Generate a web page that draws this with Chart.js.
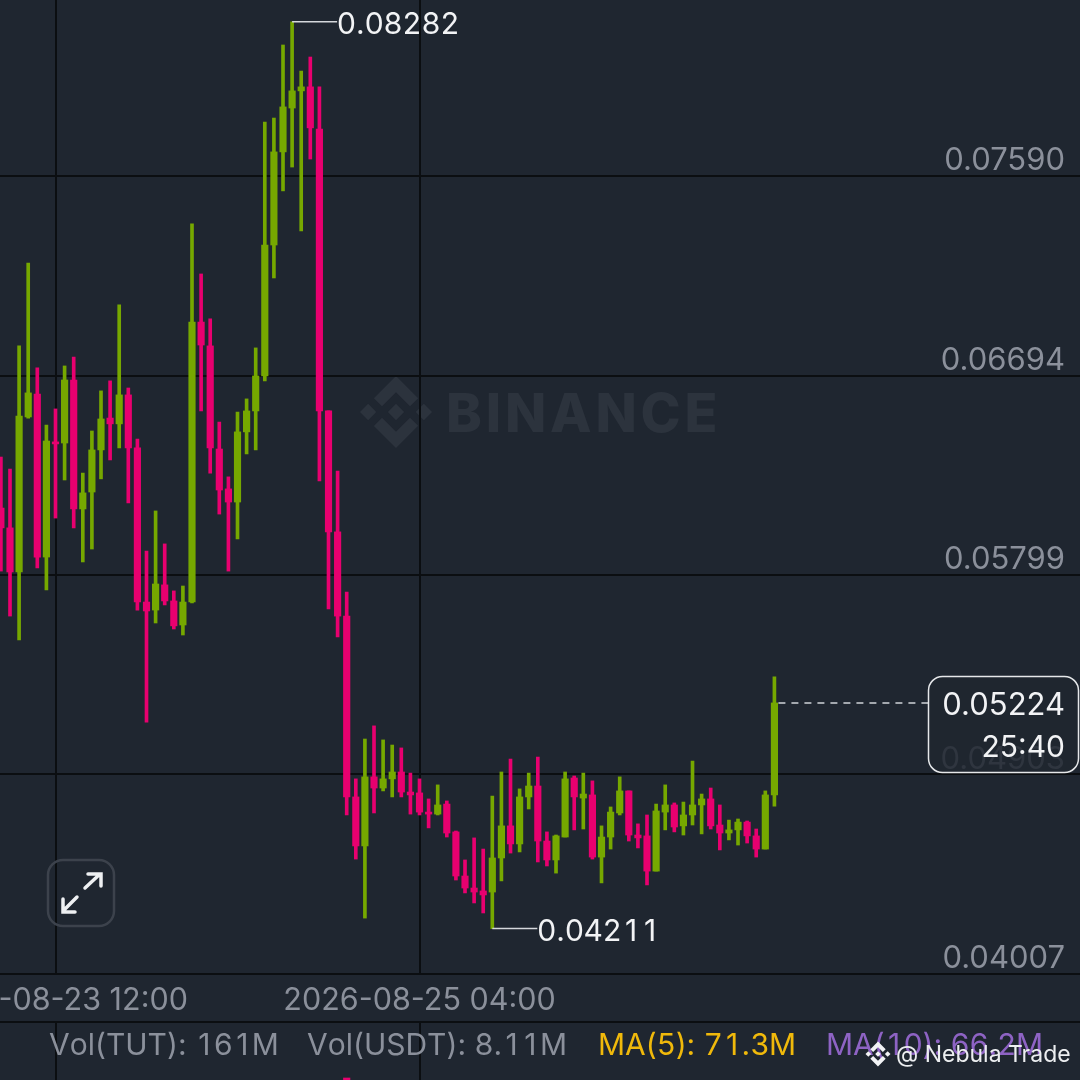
<!DOCTYPE html>
<html>
<head>
<meta charset="utf-8">
<style>
html, body { margin: 0; padding: 0; background: #1f2630; overflow: hidden; }
canvas { display: block; position: absolute; left: 0; }
#main { top: 0; }
#vol { top: 1021px; }
</style>
<script src="https://cdn.jsdelivr.net/npm/chart.js@4/dist/chart.umd.min.js"></script>
</head>
<body>
<canvas id="main" width="1080" height="1021"></canvas>
<canvas id="vol" width="1080" height="59"></canvas>
<script>
const opens = [.06099,.06010,.05812,.06508,.06611,.05879,.06396,.06391,.06674,.06095,.06171,.06360,.06503,.06477,.06607,.06369,.05677,.05641,.05754,.05682,.05574,.05677,.06934,.06827,.06364,.06185,.06126,.06441,.06535,.06692,.07280,.07698,.07895,.07972,.07990,.07801,.06535,.05992,.05614,.04802,.04582,.04892,.04842,.04883,.04914,.04824,.04820,.04734,.04725,.04770,.04645,.04447,.04393,.04380,.04375,.04528,.04672,.04591,.04802,.04851,.04604,.04519,.04622,.04887,.04797,.04811,.04532,.04622,.04730,.04829,.04631,.04627,.04469,.04734,.04766,.04672,.04721,.04766,.04793,.04676,.04640,.04654,.04689,.04627,.04568,.04811];
const highs = [.06328,.06274,.06827,.07199,.06728,.06472,.06544,.06737,.06777,.06256,.06445,.06625,.06670,.07011,.06638,.06409,.05906,.06086,.05938,.05727,.05749,.07375,.07150,.06948,.06485,.06239,.06530,.06589,.06818,.07832,.07850,.08178,.08282,.08061,.08124,.07990,.06535,.06265,.05722,.04883,.05062,.05121,.05058,.05035,.05022,.04909,.04883,.04793,.04856,.04784,.04649,.04519,.04618,.04568,.04806,.04914,.04972,.04838,.04909,.04981,.04645,.04631,.04914,.04896,.04909,.04874,.04672,.04757,.04892,.04829,.04681,.04721,.04770,.04856,.04775,.04779,.04963,.04815,.04842,.04766,.04698,.04703,.04694,.04658,.04829,.05341];
const lows = [.05816,.05614,.05507,.06503,.05830,.05731,.06054,.06225,.06010,.05857,.05915,.06230,.06315,.06369,.06122,.05641,.05138,.05583,.05664,.05556,.05529,.05673,.06535,.06256,.06072,.05816,.05960,.06342,.06360,.06670,.07132,.07523,.07630,.07343,.07666,.06221,.05646,.05520,.04721,.04523,.04258,.04730,.04829,.04802,.04802,.04725,.04721,.04663,.04721,.04622,.04429,.04371,.04326,.04281,.04211,.04425,.04550,.04555,.04748,.04510,.04492,.04460,.04622,.04654,.04658,.04523,.04416,.04568,.04721,.04604,.04573,.04407,.04469,.04654,.04645,.04631,.04676,.04636,.04658,.04564,.04609,.04586,.04595,.04532,.04568,.04761];
const closes = [.06010,.05812,.06512,.06616,.05879,.06400,.06387,.06674,.06095,.06167,.06360,.06499,.06477,.06607,.06369,.05677,.05637,.05758,.05682,.05570,.05677,.06934,.06831,.06369,.06180,.06126,.06441,.06535,.06692,.07280,.07698,.07900,.07972,.07990,.07806,.06535,.05992,.05614,.04802,.04582,.04892,.04842,.04883,.04914,.04824,.04811,.04734,.04725,.04766,.04640,.04447,.04393,.04375,.04362,.04528,.04672,.04591,.04802,.04851,.04604,.04519,.04627,.04883,.04802,.04815,.04532,.04622,.04734,.04829,.04631,.04618,.04469,.04739,.04766,.04667,.04721,.04766,.04793,.04672,.04640,.04654,.04689,.04627,.04568,.04811,.05224];

const yTicks = [0.04007, 0.04903, 0.05799, 0.06694, 0.07590];
const xTickIdx = [6, 46];
const xTickLabels = ['2026-08-23 12:00', '2026-08-25 04:00'];
const volIdx = [38];
const volVals = [2];
const legendTexts = ['Vol(TUT): 161M', 'Vol(USDT): 8.11M', 'MA(5): 71.3M', 'MA(10): 66.2M'];
const countdown = '25:40';

const UP = '#76a800', DOWN = '#e8006f', GRID = '#0b0e11', TEXT = '#8b909b';
const FONT = 'Inter';
const xMin = -0.099, xMax = 118.58;

const colorOf = ctx => closes[ctx.dataIndex] >= opens[ctx.dataIndex] ? UP : DOWN;

// layout margins the scale asks for would shrink the plot area
function noMargins(s) {
  s.paddingTop = s.paddingBottom = s.paddingLeft = s.paddingRight = 0;
}

// the reference uses tabular digits, canvas text has no such switch
function tabText(ctx, text, x, y) {
  const cell = ctx.measureText('0').width;
  ctx.textAlign = 'left';
  let px = x;
  for (const c of text) {
    const w = ctx.measureText(c).width;
    if (c >= '0' && c <= '9') {
      ctx.fillText(c, px + (cell - w) / 2, y);
      px += cell;
    } else {
      ctx.fillText(c, px, y);
      px += w;
    }
  }
}

function logo(ctx, cx, cy, size, color) {
  const polys = [
    [38.73,53.2, 63.3,28.63, 87.89,53.22, 102.19,38.92, 63.3,0, 24.42,38.91],
    [0,63.3, 14.3,49, 28.6,63.3, 14.3,77.6],
    [49,63.3, 63.3,49, 77.6,63.3, 63.3,77.6],
    [98,63.3, 112.3,49, 126.6,63.3, 112.3,77.6],
    [38.73,73.41, 24.42,87.7, 63.3,126.61, 102.19,87.69, 87.88,73.41, 63.3,97.99]
  ];
  const k = size / 126.6;
  ctx.fillStyle = color;
  polys.forEach(p => {
    ctx.beginPath();
    for (let i = 0; i < p.length; i += 2) {
      ctx.lineTo(cx + (p[i] - 63.3) * k, cy + (p[i + 1] - 63.3) * k);
    }
    ctx.closePath();
    ctx.fill();
  });
}

const watermark = {
  id: 'watermark',
  beforeDraw(chart) {
    const ctx = chart.ctx;
    ctx.save();
    logo(ctx, 396, 412, 72, '#2c333d');
    ctx.fillStyle = '#2c333d';
    ctx.font = '800 54px ' + FONT;
    ctx.letterSpacing = '3.8px';
    ctx.textAlign = 'left';
    ctx.textBaseline = 'alphabetic';
    ctx.fillText('BINANCE', 446, 432);
    ctx.restore();
  }
};

const overlay = {
  id: 'overlay',
  afterDraw(chart) {
    const ctx = chart.ctx, x = chart.scales.x, y = chart.scales.y;
    ctx.save();

    // high / low markers
    const hi = highs.indexOf(Math.max(...highs));
    const lo = lows.indexOf(Math.min(...lows));
    [[hi, highs[hi]], [lo, lows[lo]]].forEach(([i, v]) => {
      const px = x.getPixelForValue(i), py = y.getPixelForValue(v);
      ctx.strokeStyle = '#d5d8dc';
      ctx.lineWidth = 1.5;
      ctx.beginPath();
      ctx.moveTo(px, py);
      ctx.lineTo(px + 45, py);
      ctx.stroke();
      ctx.fillStyle = '#f2f3f5';
      ctx.font = '30px ' + FONT;
      ctx.textBaseline = 'middle';
      tabText(ctx, v.toFixed(5), px + 45, py + 3);
    });

    // last price line and box
    const last = closes.length - 1;
    const ly = y.getPixelForValue(closes[last]);
    ctx.strokeStyle = '#cfd3d8';
    ctx.lineWidth = 1.5;
    ctx.setLineDash([7, 6]);
    ctx.beginPath();
    ctx.moveTo(x.getPixelForValue(last) + 4, ly);
    ctx.lineTo(928, ly);
    ctx.stroke();
    ctx.setLineDash([]);

    ctx.beginPath();
    ctx.roundRect(928.5, 676.5, 150, 96, 14);
    ctx.fillStyle = 'rgba(31,38,48,0.86)';
    ctx.fill();
    ctx.strokeStyle = '#e6e8ea';
    ctx.lineWidth = 1.5;
    ctx.stroke();
    ctx.fillStyle = '#f2f3f5';
    ctx.font = '31px ' + FONT;
    ctx.textAlign = 'right';
    ctx.textBaseline = 'middle';
    ctx.fillText(closes[last].toFixed(5), 1065, 706);
    ctx.font = '30px ' + FONT;
    ctx.fillText(countdown, 1065, 748);

    // expand button
    ctx.beginPath();
    ctx.roundRect(48, 860, 66, 66, 15);
    ctx.strokeStyle = '#3c424c';
    ctx.lineWidth = 2.5;
    ctx.stroke();
    ctx.strokeStyle = '#eef0f2';
    ctx.lineWidth = 3.5;
    ctx.lineCap = 'round';
    ctx.lineJoin = 'miter';
    ctx.beginPath();
    ctx.moveTo(85, 888); ctx.lineTo(100, 874);
    ctx.moveTo(88, 874); ctx.lineTo(101, 874); ctx.lineTo(101, 886);
    ctx.moveTo(77, 897); ctx.lineTo(63, 911);
    ctx.moveTo(63, 899); ctx.lineTo(63, 912); ctx.lineTo(75, 912);
    ctx.stroke();
    ctx.restore();
  }
};

const volText = {
  id: 'volText',
  afterDraw(chart) {
    const ctx = chart.ctx;
    const lefts = [49, 307, 598, 826];
    const cols = [TEXT, TEXT, '#f0b90b', '#8e63c4'];
    ctx.save();
    ctx.font = '30px ' + FONT;
    ctx.textBaseline = 'middle';
    legendTexts.forEach((t, i) => {
      ctx.fillStyle = cols[i];
      tabText(ctx, t, lefts[i], 25);
    });
    logo(ctx, 878, 33, 25, '#f2f3f5');
    ctx.fillStyle = '#eceef0';
    ctx.font = '23px ' + FONT;
    ctx.textAlign = 'left';
    ctx.fillText('@ Nebula Trade', 896, 34);
    ctx.restore();
  }
};

new Chart(document.getElementById('main'), {
  type: 'bar',
  data: {
    datasets: [
      {
        data: opens.map((_, i) => ({ x: i, y: [lows[i], highs[i]] })),
        backgroundColor: colorOf,
        barThickness: 3,
        grouped: false,
        order: 2
      },
      {
        data: opens.map((o, i) => ({ x: i, y: [o, closes[i]] })),
        backgroundColor: colorOf,
        barThickness: 6.5,
        grouped: false,
        order: 1
      }
    ]
  },
  options: {
    responsive: false,
    animation: false,
    layout: { padding: 0, autoPadding: false },
    plugins: { legend: { display: false }, tooltip: { enabled: false } },
    scales: {
      x: {
        type: 'linear',
        position: 'bottom',
        offset: false,
        min: xMin,
        max: xMax,
        afterBuildTicks(s) { s.ticks = xTickIdx.map(v => ({ value: v })); },
        afterFit(s) { s.height = 47; noMargins(s); },
        grid: { offset: false, color: GRID, lineWidth: 2, drawTicks: false },
        border: { color: GRID, width: 2 },
        ticks: {
          color: TEXT,
          font: { family: FONT, size: 30.5 },
          padding: 9,
          autoSkip: false,
          maxRotation: 0,
          callback: v => xTickLabels[xTickIdx.indexOf(v)]
        }
      },
      y: {
        position: 'right',
        min: 0.04007,
        max: 0.0838,
        afterBuildTicks(s) { s.ticks = yTicks.map(v => ({ value: v })); },
        afterFit(s) { s.width = 0; noMargins(s); },
        grid: { color: GRID, lineWidth: 2, drawTicks: false },
        border: { display: false },
        ticks: {
          color: TEXT,
          font: { family: FONT, size: 31 },
          mirror: true,
          padding: -15,
          labelOffset: -15,
          callback: v => v.toFixed(5)
        }
      }
    }
  },
  plugins: [watermark, overlay]
});

new Chart(document.getElementById('vol'), {
  type: 'bar',
  data: {
    datasets: [{
      data: volIdx.map((v, i) => ({ x: v, y: volVals[i] })),
      backgroundColor: DOWN,
      barThickness: 6.5
    }]
  },
  options: {
    responsive: false,
    animation: false,
    layout: { padding: { top: 1 }, autoPadding: false },
    plugins: { legend: { display: false }, tooltip: { enabled: false } },
    scales: {
      x: {
        type: 'linear',
        offset: false,
        min: xMin,
        max: xMax,
        afterBuildTicks(s) { s.ticks = xTickIdx.map(v => ({ value: v })); },
        afterFit(s) { s.height = 0; noMargins(s); },
        grid: { offset: false, color: GRID, lineWidth: 2, drawTicks: false },
        border: { display: false },
        ticks: { display: false }
      },
      y: {
        min: 0,
        max: 58,
        afterBuildTicks(s) { s.ticks = [{ value: 58 }]; },
        afterFit(s) { s.width = 0; noMargins(s); },
        grid: { color: GRID, lineWidth: 2, drawTicks: false },
        border: { display: false },
        ticks: { display: false }
      }
    }
  },
  plugins: [volText]
});
</script>
</body>
</html>
